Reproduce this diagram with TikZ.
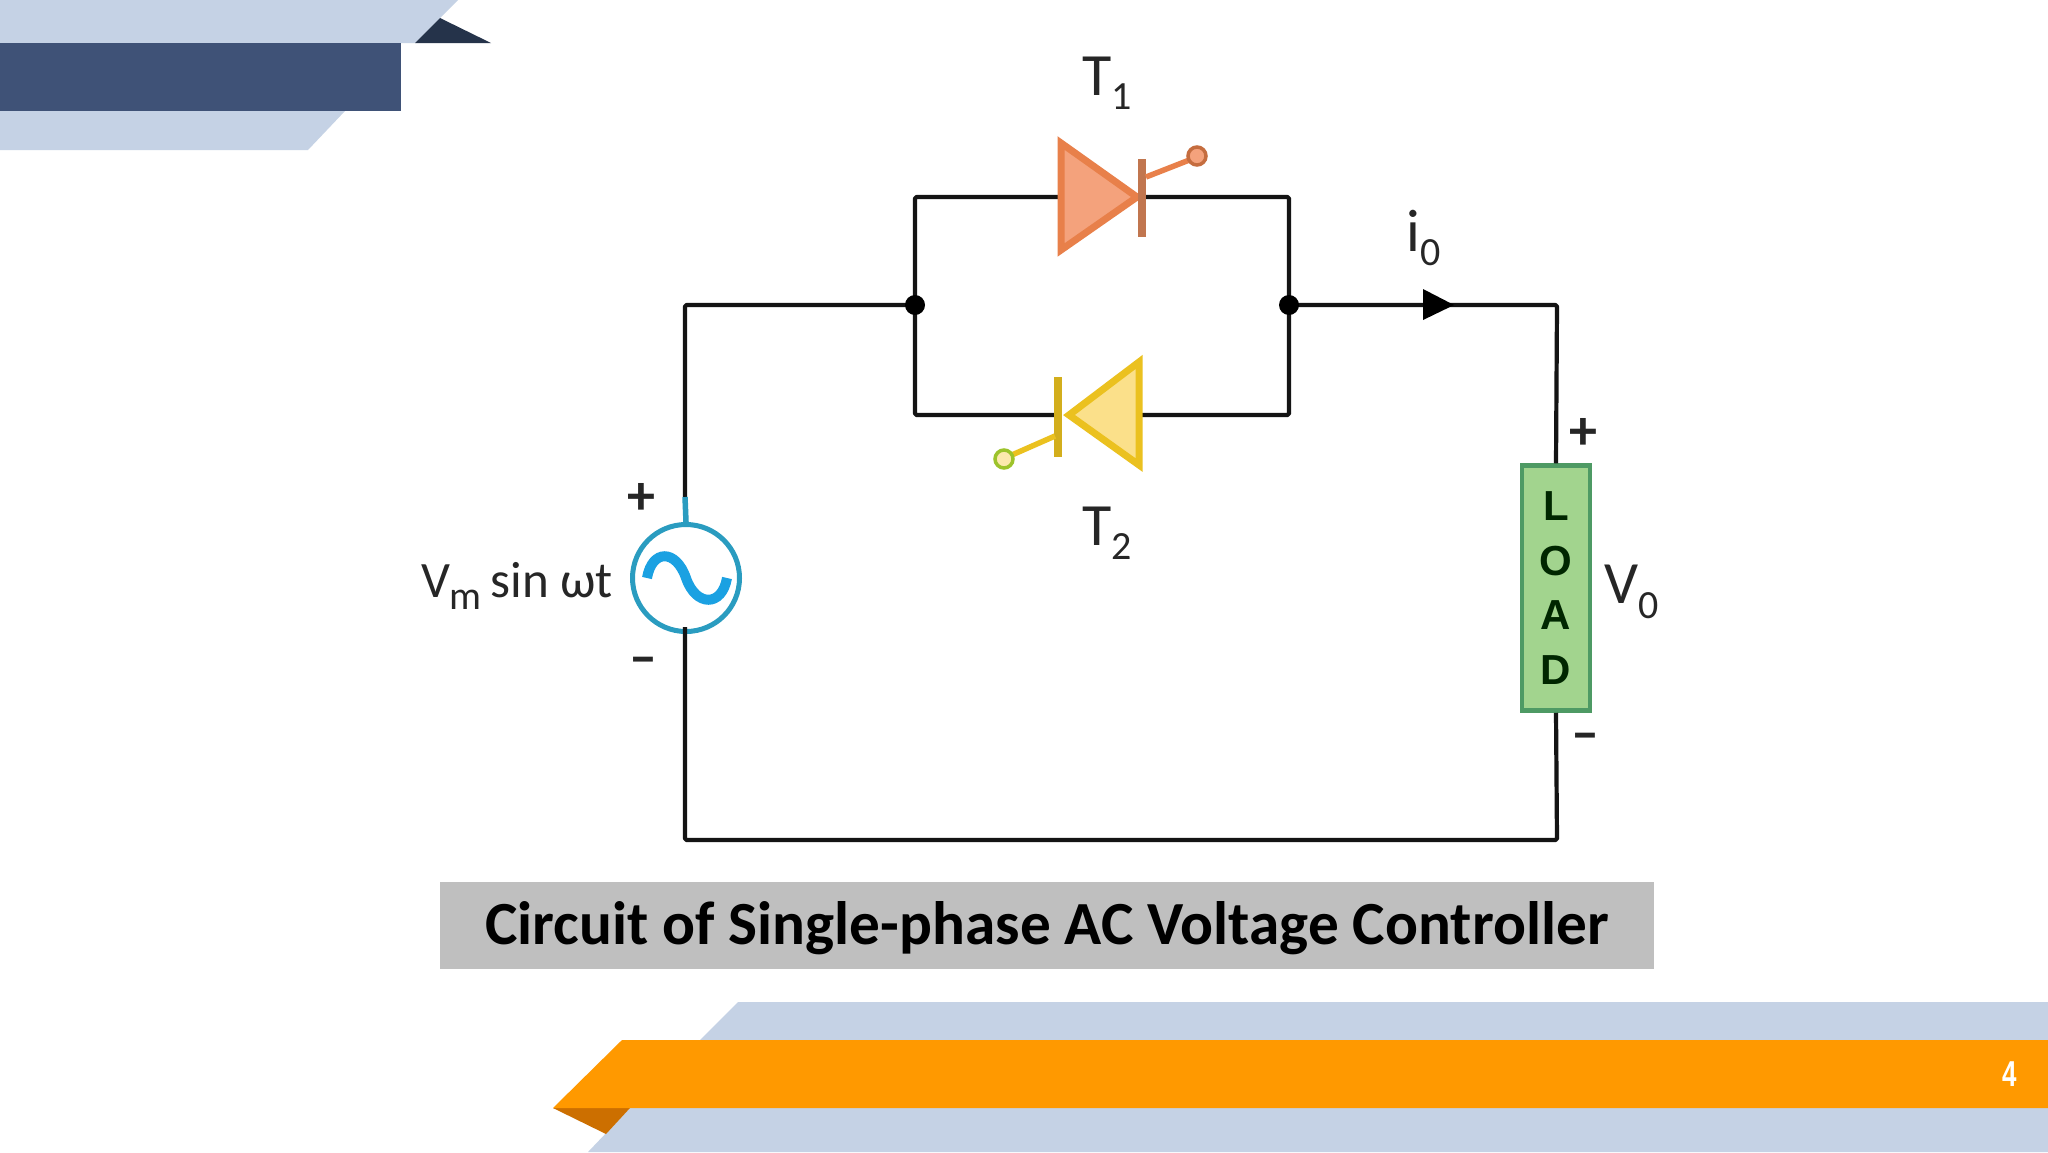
\documentclass[tikz,border=0pt]{standalone}
\usepackage{fontspec}
\setmainfont{Carlito}
\newfontfamily\arialf{Liberation Sans}
\usetikzlibrary{arrows.meta}
\definecolor{lightband}{HTML}{C5D2E5}
\definecolor{darkband}{HTML}{3F5277}
\definecolor{darkfold}{HTML}{25334A}
\definecolor{orangeband}{HTML}{FF9900}
\definecolor{orangefold}{HTML}{CC6F00}
\definecolor{thoneFill}{HTML}{F4A27C}
\definecolor{thoneLine}{HTML}{E8804A}
\definecolor{thtwoFill}{HTML}{FBE08A}
\definecolor{thtwoLine}{HTML}{EBC11F}
\definecolor{srcLine}{HTML}{2A9CC0}
\definecolor{srcWave}{HTML}{1BA1E2}
\definecolor{loadFill}{HTML}{A2D48E}
\definecolor{loadLine}{HTML}{4E9A64}
\definecolor{capFill}{HTML}{BFBFBF}
\newcommand{\fsz}[1]{\fontsize{#1}{#1}\selectfont}
\newcommand{\subs}[1]{\raisebox{-0.24em}{\fsz{40}#1}}
\tikzset{
  wire/.style={line width=4.2pt,black!92,line join=round,rounded corners=1.5pt},
  lbl/.style={inner sep=0pt,text=black!85,font=\fsz{60}},
  sign/.style={inner sep=0pt,text=black!85,font=\bfseries\fsz{56}},
  dotn/.style={circle,fill=black,inner sep=0pt,minimum size=20pt},
  thone/.style={draw=thoneLine,fill=thoneFill,line width=7pt,line join=miter},
  thtwo/.style={draw=thtwoLine,fill=thtwoFill,line width=7pt,line join=miter},
}
\begin{document}
\begin{tikzpicture}[x=1pt,y=-1pt]
\useasboundingbox (0,0) rectangle (2048,1152);
\fill[white] (0,0) rectangle (2048,1152);
% header ribbon
\fill[lightband] (0,0) -- (458,0) -- (415,43) -- (0,43) -- cycle;
\fill[darkfold] (415,43) -- (440,18) -- (491,43) -- cycle;
\fill[lightband] (0,111) -- (345,111) -- (308,150) -- (0,150) -- cycle;
\fill[darkband] (0,43) rectangle (401,111);
% footer ribbon
\fill[lightband] (738,1002) -- (2048,1002) -- (2048,1040) -- (700,1040) -- cycle;
\fill[lightband] (630,1108) -- (2048,1108) -- (2048,1152) -- (588,1152) -- cycle;
\fill[orangefold] (553,1108) -- (630,1108) -- (606,1134) -- cycle;
\fill[orangeband] (622,1040) -- (2048,1040) -- (2048,1108) -- (553,1108) -- cycle;
\node[inner sep=0pt,text=white,xscale=.72] (pg) at (2010,1074) {\arialf\bfseries\fsz{36}4};
% named points
\coordinate (jl) at (915,305);
\coordinate (jr) at (1289,305);
\coordinate (tl) at (915,197);
\coordinate (tr) at (1289,197);
\coordinate (bl) at (915,415);
\coordinate (br) at (1289,415);
\coordinate (c1) at (685,305);
\coordinate (c2) at (1557,305);
\coordinate (c3) at (1557,840);
\coordinate (c4) at (685,840);
\coordinate (srcA) at (685,497);
\coordinate (srcB) at (685,627);
\coordinate (oneA) at (1058,197);
\coordinate (oneK) at (1142,197);
\coordinate (twoK) at (1058,415);
\coordinate (twoA) at (1140,415);
% load and source
\node[draw=loadLine,fill=loadFill,line width=4.5pt,minimum width=68pt,minimum height=245pt,inner sep=0pt,
  font=\arialf\bfseries\fsz{42},text=black!85!green,align=center] (load) at (1556,588)
  {L\\[12.5pt]O\\[12.5pt]A\\[12.5pt]D};
\node[circle,draw=srcLine,line width=5pt,minimum size=107pt,inner sep=0pt,fill=white] (src) at (686,578) {};
% wires
\draw[wire] (oneA) -- (tl) -- (bl) -- (twoK);
\draw[wire] (oneK) -- (tr) -- (br) -- (twoA);
\draw[wire] (jl) -- (c1) -- (srcA);
\draw[wire] (srcB) -- (c4) -- (c3) -- (load.south);
\draw[wire] (jr) -- (c2) -- (load.north);
\draw[line width=5.5pt,srcLine] (srcA) -- (src.north);
\draw[line width=10pt,srcWave] (647,578) .. controls (652,549) and (676,549) .. (686,578)
  .. controls (696,607) and (722,607) .. (727,578);
\fill[black] (1423,289) -- (1454,305) -- (1423,320) -- cycle;
\node[dotn] (dl) at (jl) {};
\node[dotn] (dr) at (jr) {};
% T1
\draw[thone] (1061,143) -- (1137,197) -- (1061,250) -- cycle;
\draw[line width=8pt,thoneLine!80!black!90] (1142,159) -- (1142,237);
\draw[line width=5.5pt,thoneLine] (1146,177) -- (1197,157);
\node[circle,draw=thoneLine!85!black,fill=thoneFill,line width=3.5pt,minimum size=18pt,inner sep=0pt] (g1) at (1197,156) {};
% T2
\draw[thtwo] (1139,362) -- (1069,415) -- (1139,465) -- cycle;
\draw[line width=8pt,thtwoLine!90!black] (1058,377) -- (1058,457);
\draw[line width=5.5pt,thtwoLine] (1055,436) -- (1005,458);
\node[circle,draw=thtwoLine!70!green!80!gray,fill=thtwoFill!70!white,line width=3.5pt,minimum size=18pt,inner sep=0pt] (g2) at (1004,459) {};
% labels
\node[lbl] (T1) at (1107,83) {T\subs{1}};
\node[lbl] (T2) at (1107,533) {T\subs{2}};
\node[lbl] (io) at (1424,238) {i\subs{0}};
\node[lbl] (vo) at (1632,592) {V\subs{0}};
\node[lbl,font=\fsz{51}] (vm) at (517,586) {V\subs{m}\,sin ωt};
\node[sign] (p1) at (641,499) {+};
\node[sign] (m1) at (643,666) {–};
\node[sign] (p2) at (1583,434) {+};
\node[sign] (m2) at (1585,742) {–};
% caption
\node[fill=capFill,minimum width=1214pt,minimum height=87pt,inner sep=0pt,text=black,font=\bfseries\fsz{61.3}] (cap) at (1047,925) {\raisebox{-19pt}[0pt][0pt]{Circuit of Single-phase AC Voltage Controller}};
\end{tikzpicture}
\end{document}
